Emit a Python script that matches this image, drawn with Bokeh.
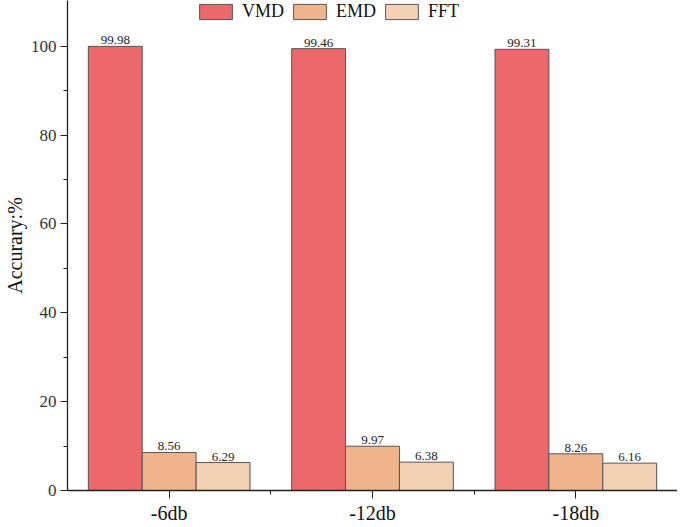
from bokeh.plotting import figure
from bokeh.models import (ColumnDataSource, Range1d, FixedTicker, LabelSet,
                          Legend, LegendItem)
from bokeh.embed import file_html
from bokeh.resources import INLINE

categories = ["-6db", "-12db", "-18db"]
series = ["VMD", "EMD", "FFT"]
vmd = [99.98, 99.46, 99.31]
emd = [8.56, 9.97, 8.26]
fft = [6.29, 6.38, 6.16]
colors = ["#EC686B", "#EFB48B", "#F3D1B4"]
y_ticks = [0, 20, 40, 60, 80, 100]

FONT = "Liberation Serif"
BAR_W = 0.265
FH = 490

p = figure(frame_width=610, frame_height=FH, output_backend="svg", toolbar_location=None,
           x_range=Range1d(0, len(categories)), y_range=Range1d(0, 110.3),
           min_border_left=57, min_border_right=0, min_border_top=0,
           min_border_bottom=0)
p.outline_line_color = None
p.grid.grid_line_color = None
p.background_fill_color = "white"
p.border_fill_color = "white"

centers = [i + 0.5 for i in range(len(categories))]
offsets = [-BAR_W, 0.0, BAR_W]
items = []
for name, vals, col, off in zip(series, [vmd, emd, fft], colors, offsets):
    src = ColumnDataSource(dict(x=[c + off for c in centers], top=vals,
                                lbl=[f"{v:.2f}" for v in vals]))
    r = p.vbar(x="x", top="top", width=BAR_W, bottom=0, source=src,
               fill_color=col, line_color="#555555", line_width=1)
    items.append(LegendItem(label=name, renderers=[r]))
    lbls = LabelSet(x="x", y="top", text="lbl", source=src, text_align="center",
                    text_baseline="bottom", y_offset=2,
                    text_font=FONT, text_font_size="13px", text_color="#222222")
    p.add_layout(lbls)

legend = Legend(items=items, orientation="horizontal", location=(128, FH - 22),
                glyph_width=41, glyph_height=19, label_height=19,
                label_standoff=6, spacing=5, padding=0, margin=0,
                border_line_color=None, background_fill_alpha=0,
                label_text_font=FONT, label_text_font_size="18px",
                label_text_color="#111111")
p.add_layout(legend)

# x axis
p.xaxis.ticker = FixedTicker(ticks=centers, minor_ticks=list(range(1, len(categories))))
p.xaxis.major_label_overrides = {c: lab for c, lab in zip(centers, categories)}
p.xaxis.major_label_text_font = FONT
p.xaxis.major_label_text_font_size = "20px"
p.xaxis.major_label_text_color = "#111111"
p.xaxis.major_label_standoff = 3
p.xaxis.major_tick_out = 8
p.xaxis.major_tick_in = 0
p.xaxis.minor_tick_out = 4
p.xaxis.minor_tick_in = 0
p.xaxis.axis_line_width = 1.3
p.xaxis.axis_line_color = "#222222"
p.xaxis.major_tick_line_color = "#222222"
p.xaxis.minor_tick_line_color = "#222222"

# y axis
p.yaxis.ticker = FixedTicker(ticks=y_ticks, minor_ticks=[10, 30, 50, 70, 90])
p.yaxis.axis_label = "Accurary:%"
p.yaxis.axis_label_text_font = FONT
p.yaxis.axis_label_text_font_size = "20px"
p.yaxis.axis_label_text_font_style = "normal"
p.yaxis.axis_label_text_color = "#111111"
p.yaxis.axis_label_standoff = 2
p.yaxis.major_label_text_font = FONT
p.yaxis.major_label_text_font_size = "17px"
p.yaxis.major_label_text_color = "#333333"
p.yaxis.major_label_standoff = 4
p.yaxis.major_tick_out = 7
p.yaxis.major_tick_in = 0
p.yaxis.minor_tick_out = 4
p.yaxis.minor_tick_in = 0
p.yaxis.axis_line_width = 1.3
p.yaxis.axis_line_color = "#222222"
p.yaxis.major_tick_line_color = "#222222"
p.yaxis.minor_tick_line_color = "#222222"

open("out.html", "w").write(file_html(p, INLINE))
